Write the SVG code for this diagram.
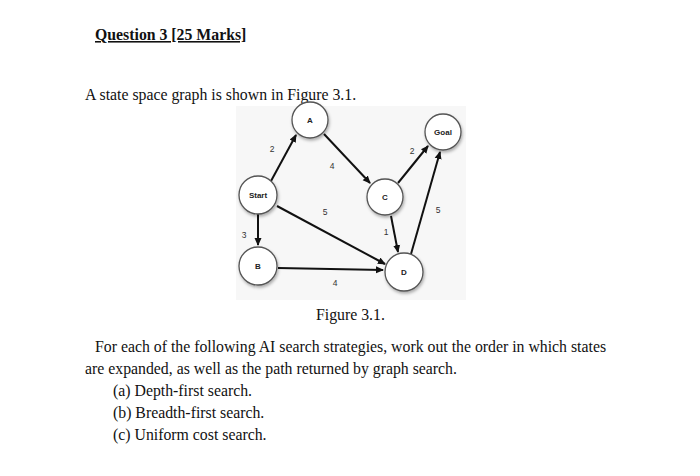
<svg xmlns="http://www.w3.org/2000/svg" width="700" height="476" viewBox="0 0 700 476">
<style>
.t{font-family:"Liberation Serif",serif;font-size:15.8px;fill:#111}
.n circle{fill:#fff;stroke:#555;stroke-width:1.3}
.n text{font-family:"Liberation Sans",sans-serif;font-size:8px;font-weight:bold;text-anchor:middle;fill:#222}
.e line{stroke:#111;stroke-width:2;marker-end:url(#ar)}
.w{font-family:"Liberation Sans",sans-serif;font-size:8.5px;fill:#333;text-anchor:middle}
</style>
<defs>
<marker id="ar" markerWidth="8" markerHeight="8" refX="7" refY="4" orient="auto" markerUnits="userSpaceOnUse"><path d="M0,0.5 L8,4 L0,7.5z" fill="#111"/></marker>
<filter id="sh" x="-30%" y="-30%" width="160%" height="160%"><feDropShadow dx="1" dy="2" stdDeviation="1.5" flood-color="#000" flood-opacity="0.3"/></filter>
</defs>
<rect width="700" height="476" fill="#fff"/>
<text class="t" x="95" y="40" font-weight="bold" text-decoration="underline">Question 3 [25 Marks]</text>
<text class="t" x="85" y="100" font-size="16.5">A state space graph is shown in Figure 3.1.</text>
<rect x="236" y="106" width="230" height="194" fill="#f7f7f7"/>
<g id="connectors" class="e">
<line x1="271" y1="181" x2="296" y2="135"/>
<line x1="324" y1="134" x2="370" y2="183"/>
<line x1="398" y1="183" x2="428" y2="146"/>
<line x1="277" y1="206" x2="385" y2="264"/>
<line x1="258" y1="214" x2="258" y2="245"/>
<line x1="278" y1="268" x2="383" y2="270"/>
<line x1="391" y1="216" x2="398" y2="252"/>
<line x1="411" y1="254" x2="440" y2="152"/>
</g>
<g class="w">
<text x="272" y="152">2</text><text x="332" y="169">4</text><text x="412" y="154">2</text>
<text x="325" y="215">5</text><text x="244" y="238">3</text><text x="386" y="235">1</text>
<text x="438" y="213">5</text><text x="335" y="286">4</text>
</g>
<g id="A" class="n"><circle cx="310" cy="120" r="18" filter="url(#sh)"/><text x="310" y="123">A</text></g>
<g id="Goal" class="n"><circle cx="443" cy="132" r="18" filter="url(#sh)"/><text x="443" y="135">Goal</text></g>
<g id="Start" class="n"><circle cx="258" cy="195" r="19" filter="url(#sh)"/><text x="258" y="198">Start</text></g>
<g id="C" class="n"><circle cx="385" cy="197" r="18" filter="url(#sh)"/><text x="385" y="200">C</text></g>
<g id="B" class="n"><circle cx="258" cy="266" r="19" filter="url(#sh)"/><text x="258" y="269">B</text></g>
<g id="D" class="n"><circle cx="404" cy="272" r="19" filter="url(#sh)"/><text x="404" y="275">D</text></g>
<text class="t" x="316" y="320">Figure 3.1.</text>
<text class="t" x="95" y="352">For each of the following AI search strategies, work out the order in which states</text>
<text class="t" x="85" y="374">are expanded, as well as the path returned by graph search.</text>
<text class="t" x="113" y="396">(a) Depth-first search.</text>
<text class="t" x="113" y="418">(b) Breadth-first search.</text>
<text class="t" x="113" y="440">(c) Uniform cost search.</text>
</svg>
